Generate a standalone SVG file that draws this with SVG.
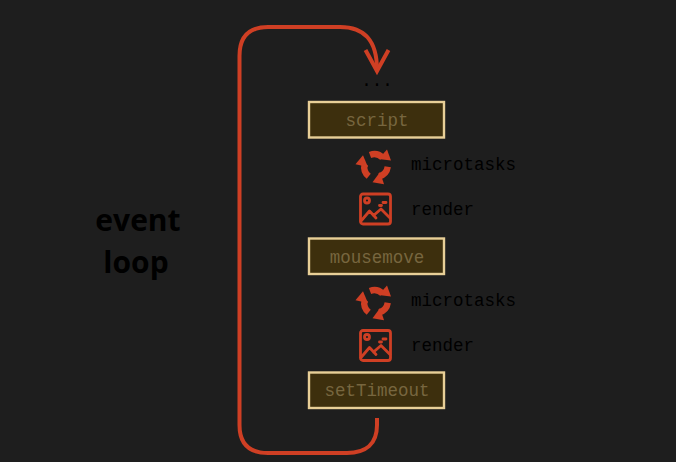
<svg xmlns="http://www.w3.org/2000/svg" width="676" height="462" viewBox="0 0 676 462">
<defs>
<style>
.box{fill:#3d2f0d;stroke:#e8cf97;stroke-width:2.4}
.boxt{font-family:"Liberation Mono",monospace;font-size:17.5px;fill:#77663f;text-anchor:middle}
.lab{font-family:"Liberation Mono",monospace;font-size:17.5px;fill:#000}
.red{fill:none;stroke:#cf3f24;stroke-width:4}
.ico{fill:none;stroke:#cf3f24;stroke-width:2.8;stroke-linejoin:round;stroke-linecap:round}
.title{font-family:"Open Sans",sans-serif;font-weight:700;font-size:30px;fill:#000;text-anchor:middle}
</style>
<g id="arc">
<path d="M-5.500 -11A12 12 0 0 1 7 -8.500" fill="none" stroke="#cf3f24" stroke-width="6.400"/>
<path d="M11.500 -16.500L15.500 -5.500L3 -7Z" fill="#cf3f24"/>
</g>
<g id="cycle">
<use href="#arc"/>
<use href="#arc" transform="rotate(120)"/>
<use href="#arc" transform="rotate(240)"/>
</g>
<g id="picture">
<rect x="0" y="0" width="30" height="30" rx="2.5" class="ico"/>
<circle cx="6.500" cy="6.500" r="2.500" class="ico"/>
<path d="M0.500 27 L9 17 L15.500 24 M13 21.500 L20.500 15 L29.500 24" class="ico"/>
<path d="M19 11.500h2M22.500 8.500h3" class="ico"/>
</g>
</defs>
<rect width="676" height="462" fill="#1e1e1e"/>
<g id="connectors">
<path class="red" d="M377 418V425C377 444 366 453 347 453H268C249 453 239.500 444 239.500 425V56C239.500 37 249 27 268 27H340C364 27 377 40 377 70"/>
<path class="red" d="M365.500 50L377 71L388.500 50"/>
</g>
<text id="ellipsis" x="377" y="86" class="lab" style="text-anchor:middle;font-size:17.500px">...</text>
<g id="node-script"><rect class="box" x="309" y="102" width="135" height="35.500"/><text class="boxt" x="377" y="126">script</text></g>
<g id="node-microtasks-1"><use href="#cycle" x="375.500" y="166"/><text class="lab" x="411" y="170">microtasks</text></g>
<g id="node-render-1"><use href="#picture" x="360.500" y="194"/><text class="lab" x="411" y="215">render</text></g>
<g id="node-mousemove"><rect class="box" x="309" y="238.500" width="135" height="35.500"/><text class="boxt" x="377" y="263">mousemove</text></g>
<g id="node-microtasks-2"><use href="#cycle" x="375.500" y="302"/><text class="lab" x="411" y="306">microtasks</text></g>
<g id="node-render-2"><use href="#picture" x="360.500" y="330.500"/><text class="lab" x="411" y="351">render</text></g>
<g id="node-settimeout"><rect class="box" x="309" y="372.500" width="135" height="35.500"/><text class="boxt" x="377" y="396">setTimeout</text></g>
<g id="label-event-loop"><text class="title" x="138" y="231">event</text><text class="title" x="136" y="273">loop</text></g>
</svg>
